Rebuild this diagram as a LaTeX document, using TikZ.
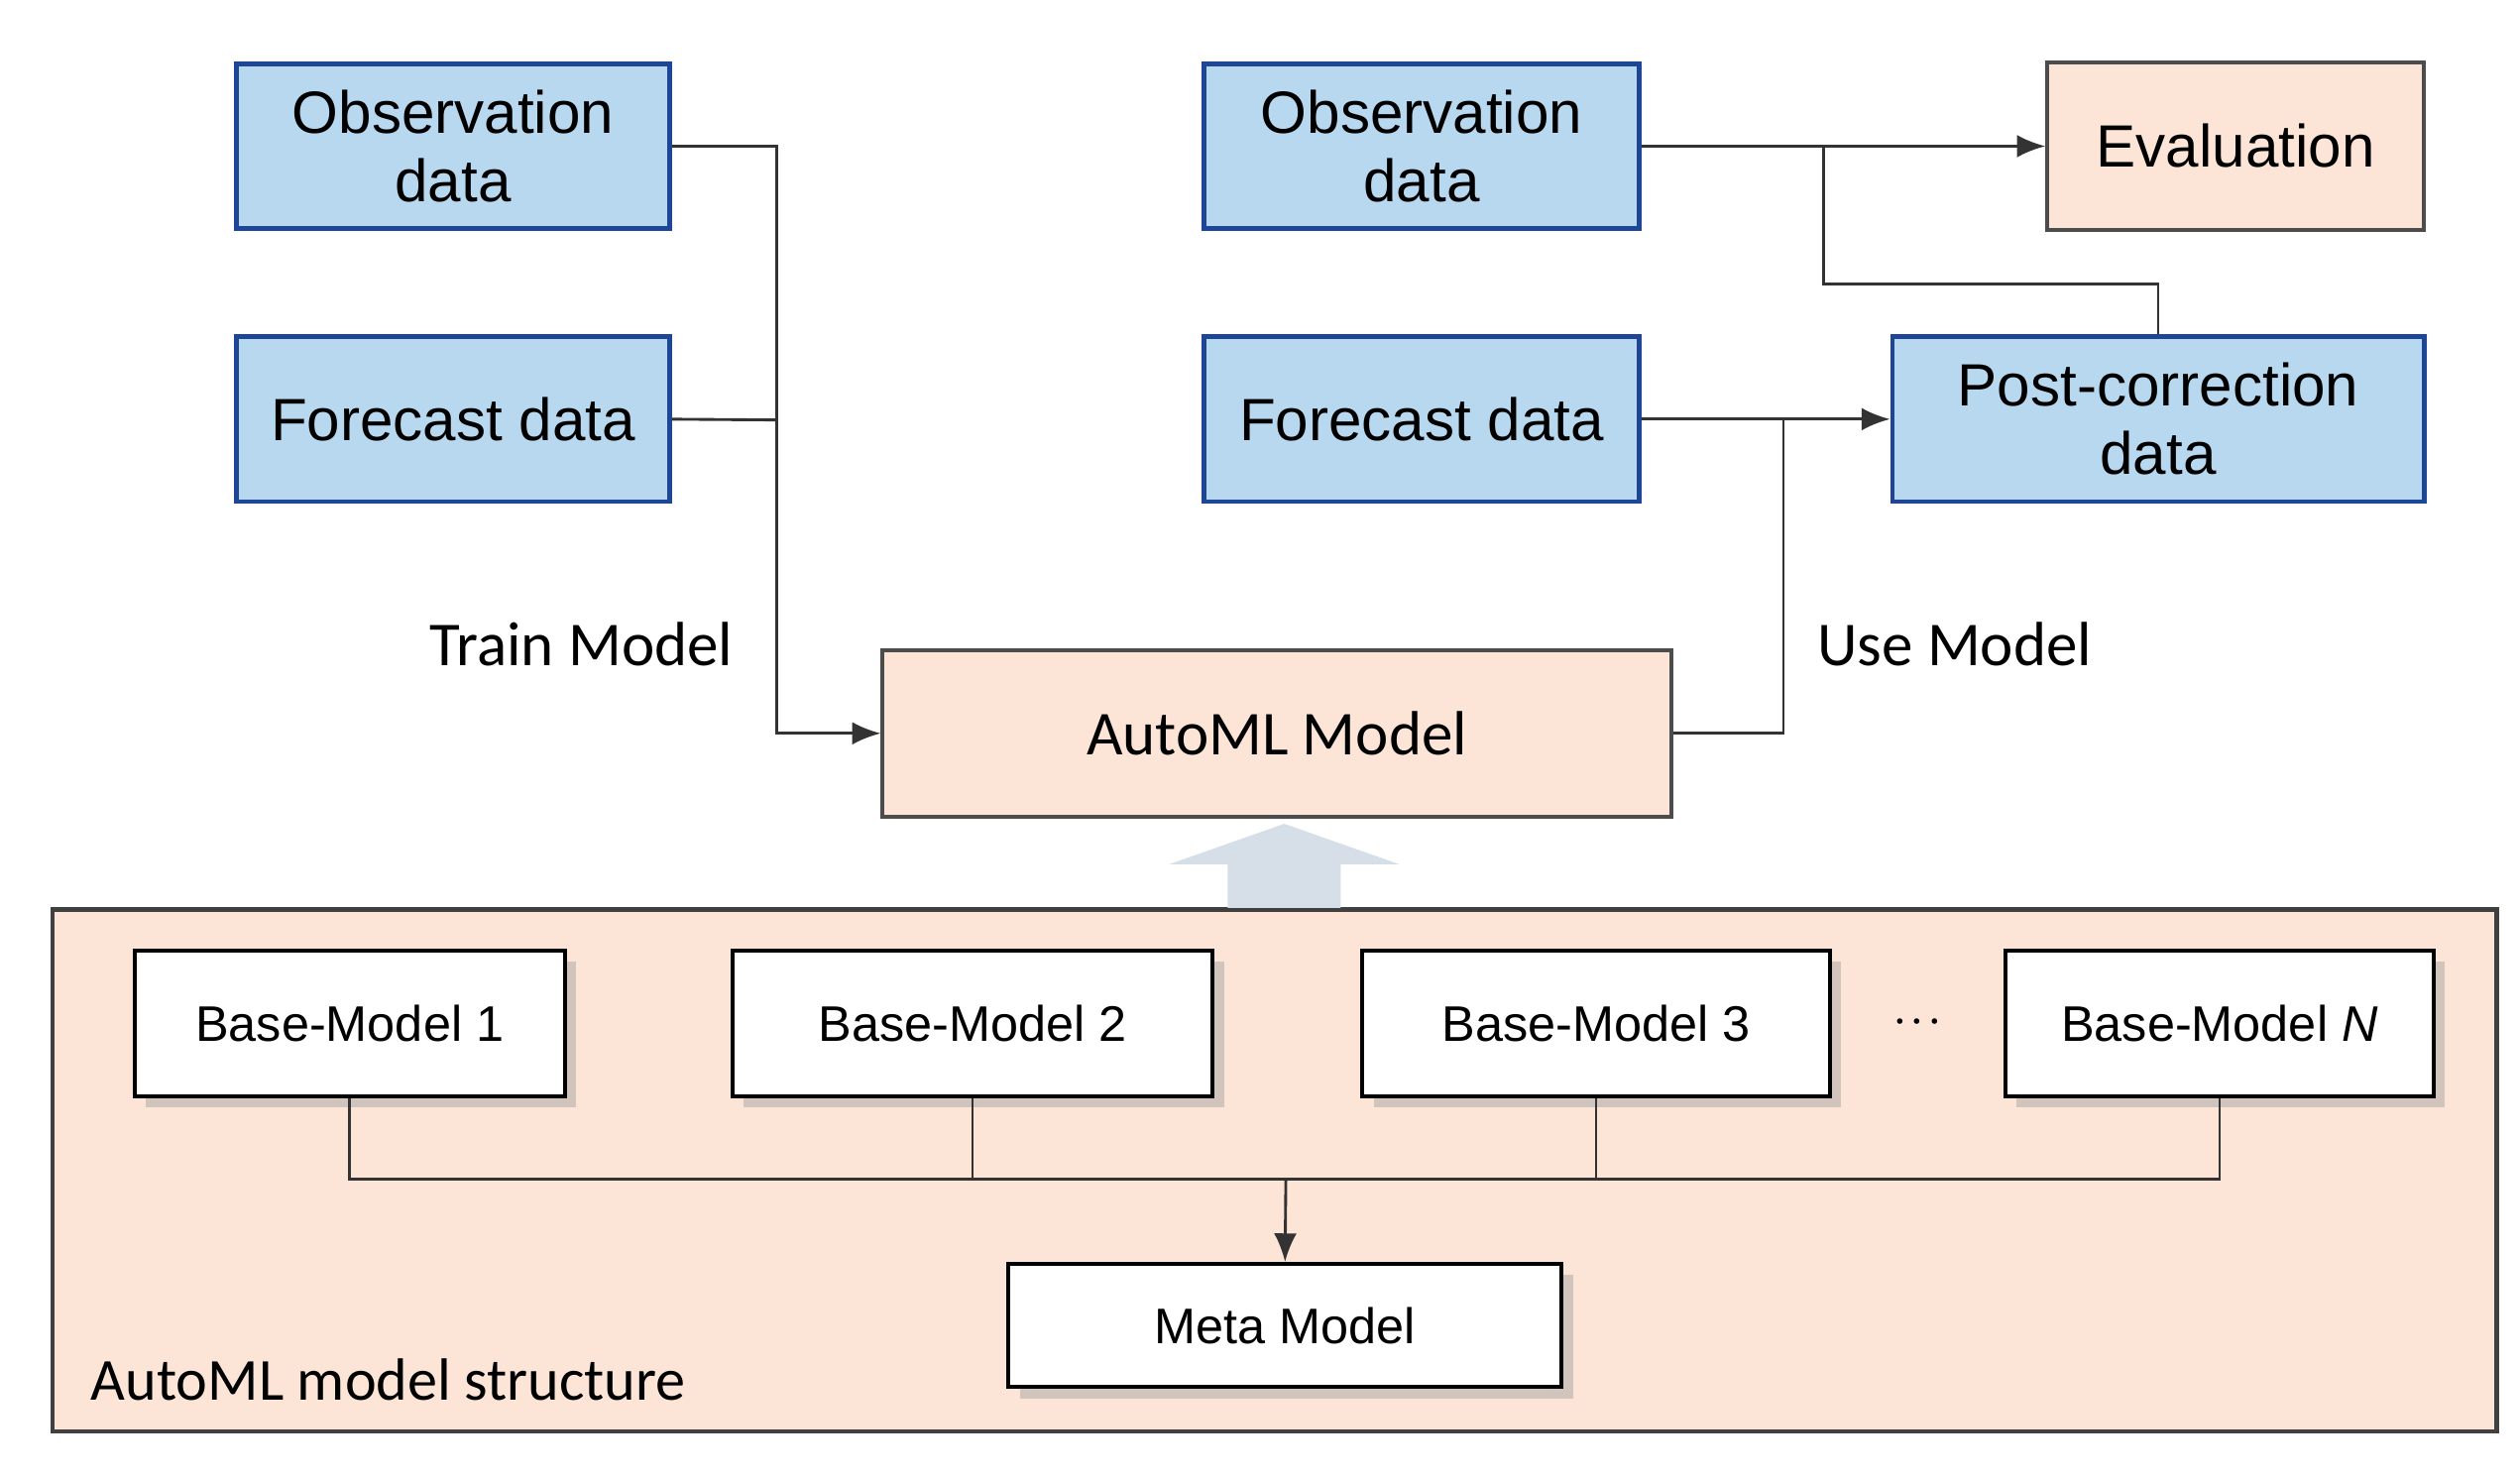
\documentclass[tikz,border=0pt]{standalone}
\usepackage{fontspec}
\setmainfont{Liberation Sans}
\newfontfamily\carl{Carlito}
\usetikzlibrary{arrows.meta,shadows}
\definecolor{bluef}{RGB}{184,216,240}
\definecolor{blued}{RGB}{30,70,150}
\definecolor{peach}{RGB}{252,228,214}
\definecolor{arrg}{RGB}{214,222,232}
\begin{document}
\begin{tikzpicture}[x=0.01cm,y=-0.01cm,
 blue/.style={draw=blued,line width=0.8pt,fill=bluef,align=center,font=\fontsize{10.5}{12}\selectfont},
 pch/.style={draw=black!70,line width=0.7pt,fill=peach,align=center,font=\fontsize{10.5}{12}\selectfont},
 base/.style={draw=black,line width=0.7pt,fill=white,font=\fontsize{8.8}{10}\selectfont,
   drop shadow={shadow xshift=2pt,shadow yshift=-2pt,fill=black!35}},
 ln/.style={draw=black!80,line width=0.5pt},
 ar/.style={ln,-{Latex[length=5pt,width=4pt]}}]
\useasboundingbox (0,0) rectangle (1560,915);
\fill[white] (0,0) rectangle (1560,915);
\newcommand\bx[6]{\node[#1,minimum width=#4*0.01cm-0.8pt,minimum height=#5*0.01cm-0.8pt] (#2) at (#3) {#6};}
\node[draw=black!75,line width=0.8pt,fill=peach,minimum width=15.12cm,minimum height=3.23cm] (struct) at (789,724.5) {};
\node[anchor=west,font=\carl\fontsize{10.5}{12}\selectfont] (slabel) at (44,854) {AutoML model structure};
\bx{blue}{obs1}{280.5,90.5}{271}{105}{Observation\\data}
\bx{blue}{fc1}{280.5,259.5}{271}{105}{Forecast data}
\bx{blue}{obs2}{880,90.5}{272}{105}{Observation\\data}
\bx{blue}{fc2}{880,259.5}{272}{105}{Forecast data}
\bx{pch}{eval}{1384,90.5}{236}{107}{Evaluation}
\bx{blue}{post}{1336,259.5}{332}{105}{Post-correction\\data}
\bx{pch}{auto}{790.5,454}{491}{106}{\fontsize{11}{13}\selectfont\carl AutoML Model}
\node[font=\carl\fontsize{11}{13}\selectfont] (tm) at (360,399) {Train Model};
\node[font=\carl\fontsize{11}{13}\selectfont] (um) at (1210,399) {Use Model};
\fill[arrg] (760,562) -- (760,535) -- (724,535) -- (795,510) -- (866,535) -- (830,535) -- (830,562) -- cycle;
\bx{base}{b1}{216.5,633.5}{269}{93}{Base-Model 1}
\bx{base}{b2}{602,633.5}{300}{93}{Base-Model 2}
\bx{base}{b3}{988,633.5}{292}{93}{Base-Model 3}
\bx{base}{bn}{1374,633.5}{268}{93}{Base-Model \textit{N}}
\node[font=\fontsize{9}{10}\selectfont\bfseries] (dots) at (1187,633) {$\cdot\!\cdot\!\cdot$};
\bx{base}{meta}{795.5,820.5}{345}{79}{Meta Model}
\coordinate (j2) at (1104,260);
\coordinate (j3) at (1129,91);
\draw[ar] (obs1.east) -| (481,454) -- (auto.west);
\draw[ln] (fc1.east) -- (481,260);
\draw[ln] (auto.east) -| (j2);
\draw[ar] (fc2.east) -- (post.west);
\draw[ar] (obs2.east) -- (eval.west);
\draw[ln] (post.north) |- (1129,176) -- (j3);
\draw[ln] (b1.south) |- (bn.south|-0,730) -- (bn.south);
\draw[ln] (b2.south) -- (b2.south|-0,730);
\draw[ln] (b3.south) -- (b3.south|-0,730);
\draw[ar] (796,730) -- (meta.north);
\end{tikzpicture}
\end{document}
